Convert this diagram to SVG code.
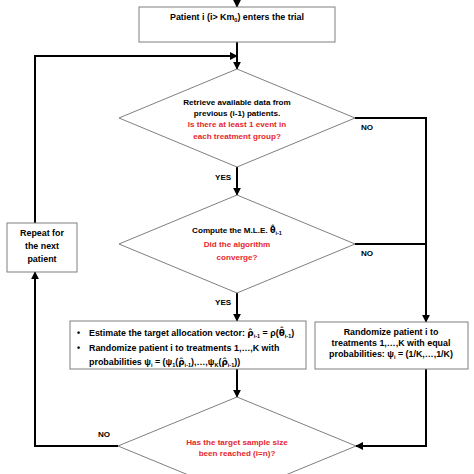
<svg xmlns="http://www.w3.org/2000/svg" width="474" height="474" viewBox="0 0 474 474">
<defs>
<marker id="arr" viewBox="0 0 10 10" refX="9" refY="5" markerWidth="4" markerHeight="4" orient="auto" markerUnits="strokeWidth">
<path d="M0,0 L10,5 L0,10 z" fill="#000"/>
</marker>
<style>
.box{fill:#fff;stroke:#7f7f7f;stroke-width:1}
.dia{fill:#fff;stroke:#7f7f7f;stroke-width:1}
.con{fill:none;stroke:#000;stroke-width:2}
.t{font-family:"Liberation Sans",Arial,sans-serif;font-weight:bold;font-size:8.1px;fill:#000}
.b{font-size:8.9px}
.r{fill:#e5272d}
.c{text-anchor:middle}
.s{font-size:5.5px}
.m{font-family:"DejaVu Sans",sans-serif;font-weight:bold}
</style>
</defs>
<rect width="474" height="474" fill="#fff"/>
<g id="connectors">
<line class="con" x1="237" y1="0" x2="237" y2="7" marker-end="url(#arr)"/>
<line class="con" x1="237" y1="42" x2="237" y2="69" marker-end="url(#arr)"/>
<polyline class="con" points="35,223 35,56 237,56" marker-end="url(#arr)"/>
<line class="con" x1="237" y1="167" x2="237" y2="195" marker-end="url(#arr)"/>
<polyline class="con" points="355,118 426,118 426,322" marker-end="url(#arr)"/>
<line class="con" x1="355" y1="244" x2="426" y2="244"/>
<line class="con" x1="237" y1="293" x2="237" y2="321" marker-end="url(#arr)"/>
<line class="con" x1="237" y1="369" x2="237" y2="397" marker-end="url(#arr)"/>
<polyline class="con" points="426,369 426,446 356,446" marker-end="url(#arr)"/>
<polyline class="con" points="118,446 35,446 35,272" marker-end="url(#arr)"/>
<text class="t" x="361" y="130">NO</text>
<text class="t" x="215" y="180">YES</text>
<text class="t" x="361" y="256">NO</text>
<text class="t" x="215" y="305">YES</text>
<text class="t" x="98" y="437">NO</text>
</g>
<g id="start">
<rect class="box" x="139" y="7" width="196" height="35"/>
<text class="t b c" x="237" y="20">Patient i (i&gt; Km<tspan class="s" dy="2">0</tspan><tspan dy="-2">) enters the trial</tspan></text>
</g>
<g id="decision1">
<polygon class="dia" points="237,69 355,118 237,167 119,118"/>
<text class="t c" x="237" y="105">Retrieve available data from</text>
<text class="t c" x="237" y="116">previous (i-1) patients.</text>
<text class="t c r" x="237" y="127">Is there at least 1 event in</text>
<text class="t c r" x="237" y="139">each treatment group?</text>
</g>
<g id="decision2">
<polygon class="dia" points="237,195 355,244 237,293 119,244"/>
<text class="t c" x="237" y="233">Compute the M.L.E. <tspan class="m">θ̂</tspan><tspan class="s" dy="2">i-1</tspan></text>
<text class="t c r" x="237" y="247">Did the algorithm</text>
<text class="t c r" x="237" y="260">converge?</text>
</g>
<g id="adaptive">
<rect class="box" x="70" y="321" width="236" height="48"/>
<text class="t b" x="77" y="336">•</text>
<text class="t b" x="89" y="336">Estimate the target allocation vector: <tspan class="m">ρ̂</tspan><tspan class="s" dy="2">i-1</tspan><tspan dy="-2"> = ρ(</tspan><tspan class="m">θ̂</tspan><tspan class="s" dy="2">i-1</tspan><tspan dy="-2">)</tspan></text>
<text class="t b" x="77" y="351">•</text>
<text class="t b" x="89" y="351">Randomize patient i to treatments 1,…,K with</text>
<text class="t b" x="89" y="365">probabilities ψ<tspan class="s" dy="2">i</tspan><tspan dy="-2"> = (ψ</tspan><tspan class="s" dy="2">1</tspan><tspan dy="-2">(</tspan><tspan class="m">ρ̂</tspan><tspan class="s" dy="2">i-1</tspan><tspan dy="-2">),…,ψ</tspan><tspan class="s" dy="2">K</tspan><tspan dy="-2">(</tspan><tspan class="m">ρ̂</tspan><tspan class="s" dy="2">i-1</tspan><tspan dy="-2">))</tspan></text>
</g>
<g id="equal">
<rect class="box" x="315" y="322" width="153" height="47"/>
<text class="t b c" x="391" y="335">Randomize patient i to</text>
<text class="t b c" x="391" y="346">treatments 1,…,K with equal</text>
<text class="t b c" x="391" y="357">probabilities:  ψ<tspan class="s" dy="2">i</tspan><tspan dy="-2"> = (1/K,…,1/K)</tspan></text>
</g>
<g id="decision3">
<polygon class="dia" points="237,397 356,446 237,495 118,446"/>
<text class="t c r" x="237" y="445">Has the target sample size</text>
<text class="t c r" x="237" y="456">been reached (i=n)?</text>
</g>
<g id="repeat">
<rect class="box" x="7" y="223" width="70" height="49"/>
<text class="t b c" x="42" y="236">Repeat for</text>
<text class="t b c" x="42" y="249">the next</text>
<text class="t b c" x="42" y="262">patient</text>
</g>
</svg>
